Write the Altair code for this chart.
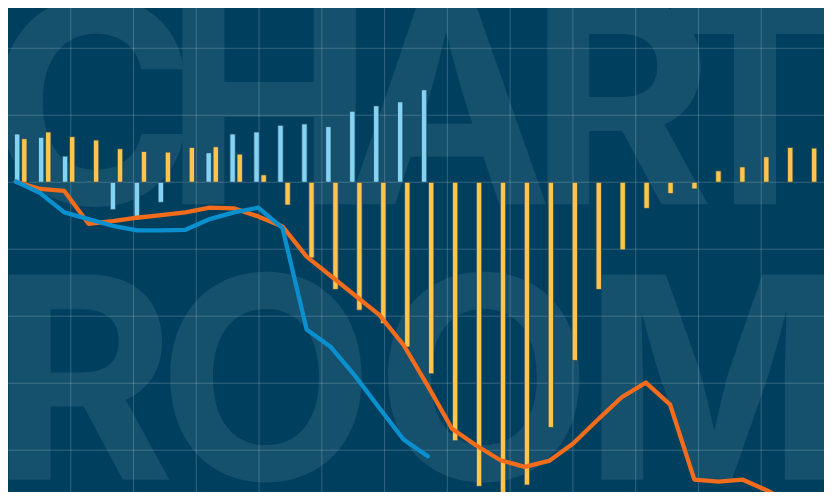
import altair as alt
import pandas as pd

# ---- data ----
idx = list(range(34))
macd_hist = [7.2, 6.7, 3.9, 0.15, -4.1, -5.2, -3.0, -0.1, 4.4, 7.2, 7.5, 8.5,
             8.7, 8.3, 10.6, 11.4, 12.0, 13.8]
signal_hist = [6.5, 7.5, 6.8, 6.3, 5.0, 4.6, 4.5, 5.2, 5.3, 4.2, 1.1, -3.4,
               -11.3, -16.0, -19.1, -21.1, -24.6, -28.6, -38.6, -45.4, -48.4,
               -45.2, -36.6, -26.6, -16.0, -10.1, -3.9, -1.7, -1.0, 1.7, 2.3,
               3.8, 5.2, 5.1]
orange_line = [0.1, -1.0, -1.3, -6.2, -5.8, -5.3, -4.9, -4.5, -3.8, -3.9, -5.1,
               -6.6, -11.1, -14.0, -16.9, -19.8, -24.3, -30.4, -36.8, -39.3,
               -41.5, -42.5, -41.6, -39.0, -35.5, -32.1, -29.9, -33.2, -44.4,
               -44.7, -44.4, -46.0, -48.0, -49.4]
blue_line = [0.1, -1.6, -4.5, -5.5, -6.5, -7.2, -7.2, -7.1, -5.5, -4.5, -3.8,
             -6.8, -22.0, -24.6, -28.9, -33.7, -38.4, -40.9]

grid_x = list(range(1, 13))
grid_y = [-40, -30, -20, -10, 0, 10, 20]

word_top = ["C", "H", "A", "R", "T"]
word_top_pos = [1.33, 4.16, 7.0, 9.77, 11.9]
word_bottom = ["R", "O", "O", "M"]
word_bottom_pos = [1.19, 4.11, 7.58, 11.25]
baseline_top = -3.3
baseline_bottom = -44.4

# ---- tables ----
df_macd = pd.DataFrame({"i": idx[:len(macd_hist)], "v": macd_hist})
df_sig = pd.DataFrame({"i": idx, "v": signal_hist})
df_or = pd.DataFrame({"i": idx, "v": orange_line})
df_bl = pd.DataFrame({"i": idx[:len(blue_line)], "v": blue_line})
df_gx = pd.DataFrame({"g": grid_x})
df_gy = pd.DataFrame({"g": grid_y})
df_words = pd.DataFrame({
    "letter": word_top + word_bottom,
    "pos": word_top_pos + word_bottom_pos,
    "base": [baseline_top] * len(word_top) + [baseline_bottom] * len(word_bottom),
})

BG = "#013f5f"
xs = alt.Scale(domain=[-0.324, 33.35], nice=False, zero=False)
ys = alt.Scale(domain=[-46.24, 26.01], nice=False, zero=False)
gs = alt.Scale(domain=[0, 13], nice=False, zero=False)

letters = alt.Chart(df_words).mark_text(
    font="Inter", fontWeight=700, fontSize=282, color="#15506d",
    align="center", baseline="alphabetic", clip=True
).encode(
    x=alt.X("pos:Q", scale=gs, axis=None),
    y=alt.Y("base:Q", scale=ys, axis=None),
    text="letter:N",
)

vgrid = alt.Chart(df_gx).mark_rule(color="white", opacity=0.2, strokeWidth=1).encode(
    x=alt.X("g:Q", scale=gs, axis=None)
)
hgrid = alt.Chart(df_gy).mark_rule(color="white", opacity=0.2, strokeWidth=1).encode(
    y=alt.Y("g:Q", scale=ys, axis=None)
)

bars_macd = alt.Chart(df_macd).mark_bar(
    width=5.4, xOffset=-3.55, color="#84d3f3", stroke="#1b4863", strokeWidth=0.8, clip=True
).encode(
    x=alt.X("i:Q", scale=xs, axis=None),
    y=alt.Y("v:Q", scale=ys, axis=None),
    y2=alt.datum(0),
)
bars_sig = alt.Chart(df_sig).mark_bar(
    width=5.4, xOffset=3.55, color="#fec44c", stroke="#1b4863", strokeWidth=0.8, clip=True
).encode(
    x=alt.X("i:Q", scale=xs, axis=None),
    y=alt.Y("v:Q", scale=ys, axis=None),
    y2=alt.datum(0),
)

line_or = alt.Chart(df_or).mark_line(
    color="#f26c1c", strokeWidth=4.3, strokeJoin="round", strokeCap="round", clip=True
).encode(
    x=alt.X("i:Q", scale=xs, axis=None),
    y=alt.Y("v:Q", scale=ys, axis=None),
)
line_bl = alt.Chart(df_bl).mark_line(
    color="#0a8fcf", strokeWidth=4.3, strokeJoin="round", strokeCap="round", clip=True
).encode(
    x=alt.X("i:Q", scale=xs, axis=None),
    y=alt.Y("v:Q", scale=ys, axis=None),
)

chart = alt.layer(
    letters, vgrid, hgrid, bars_macd, bars_sig, line_or, line_bl
).resolve_scale(x="independent").properties(
    width=816, height=484, background=BG, padding=0,
    autosize=alt.AutoSizeParams(type="none"),
).configure_view(stroke=None, fill=BG)

chart.save("out.html", embed_options={"renderer": "svg", "actions": False})
